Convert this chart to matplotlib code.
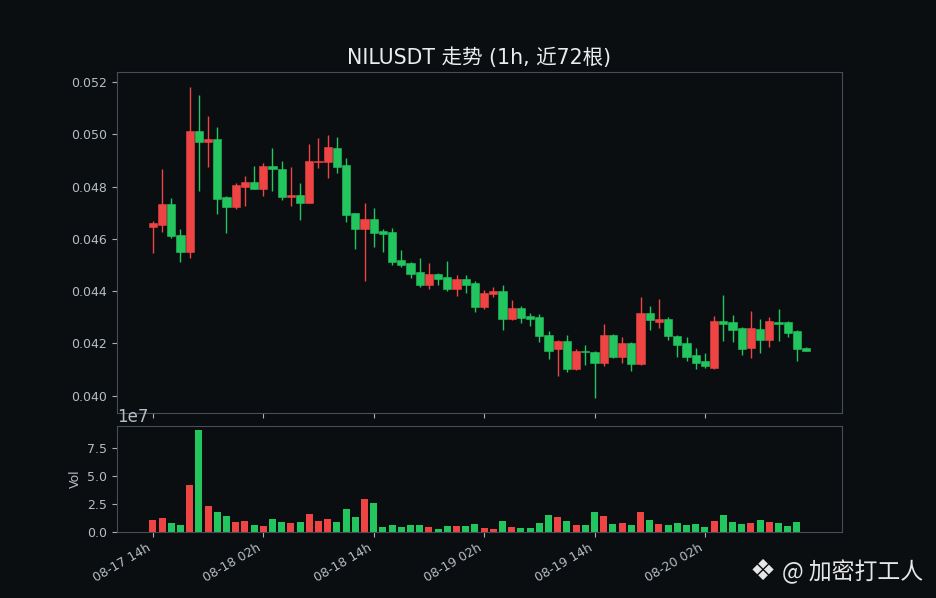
import numpy as np
import pandas as pd
import matplotlib
matplotlib.use("Agg")
import matplotlib.pyplot as plt
import matplotlib.dates as mdates

# ---- data ----
start_time = "2025-08-17 14:00"
opens = [0.04647, 0.04654, 0.04734, 0.04615, 0.04552, 0.05013, 0.04972, 0.04982, 0.04760, 0.04724,
         0.04800, 0.04818, 0.04792, 0.04879, 0.04869, 0.04762, 0.04768, 0.04739, 0.04893, 0.04893,
         0.04948, 0.04883, 0.04699, 0.04639, 0.04677, 0.04630, 0.04627, 0.04520, 0.04508, 0.04474,
         0.04422, 0.04466, 0.04455, 0.04410, 0.04447, 0.04432, 0.04338, 0.04390, 0.04401, 0.04295,
         0.04336, 0.04306, 0.04302, 0.04233, 0.04177, 0.04210, 0.04101, 0.04172, 0.04168, 0.04127,
         0.04233, 0.04150, 0.04203, 0.04123, 0.04317, 0.04284, 0.04294, 0.04229, 0.04203, 0.04157,
         0.04134, 0.04108, 0.04287, 0.04283, 0.04260, 0.04181, 0.04256, 0.04215, 0.04283, 0.04283,
         0.04248, 0.04184]
highs = [0.04669, 0.04868, 0.04757, 0.04638, 0.05182, 0.05152, 0.05070, 0.05028, 0.04763, 0.04814,
         0.04841, 0.04879, 0.04891, 0.04948, 0.04898, 0.04875, 0.04814, 0.04963, 0.04986, 0.04998,
         0.04990, 0.04910, 0.04700, 0.04738, 0.04719, 0.04638, 0.04642, 0.04558, 0.04510, 0.04527,
         0.04508, 0.04471, 0.04516, 0.04463, 0.04463, 0.04440, 0.04406, 0.04418, 0.04422, 0.04367,
         0.04344, 0.04318, 0.04313, 0.04246, 0.04214, 0.04233, 0.04180, 0.04195, 0.04172, 0.04275,
         0.04237, 0.04226, 0.04205, 0.04378, 0.04344, 0.04371, 0.04302, 0.04233, 0.04226, 0.04184,
         0.04164, 0.04306, 0.04386, 0.04310, 0.04262, 0.04325, 0.04294, 0.04302, 0.04333, 0.04287,
         0.04252, 0.04186]
lows = [0.04548, 0.04628, 0.04605, 0.04510, 0.04529, 0.04784, 0.04875, 0.04696, 0.04624, 0.04715,
        0.04726, 0.04790, 0.04764, 0.04785, 0.04750, 0.04727, 0.04673, 0.04737, 0.04873, 0.04834,
        0.04854, 0.04666, 0.04563, 0.04441, 0.04571, 0.04552, 0.04502, 0.04494, 0.04452, 0.04417,
        0.04410, 0.04424, 0.04399, 0.04383, 0.04395, 0.04322, 0.04333, 0.04376, 0.04252, 0.04291,
        0.04280, 0.04268, 0.04206, 0.04141, 0.04076, 0.04092, 0.04098, 0.04119, 0.03990, 0.04112,
        0.04146, 0.04127, 0.04093, 0.04116, 0.04253, 0.04261, 0.04214, 0.04149, 0.04134, 0.04103,
        0.04108, 0.04103, 0.04208, 0.04204, 0.04157, 0.04145, 0.04164, 0.04187, 0.04210, 0.04223,
        0.04134, 0.04170]
closes = [0.04660, 0.04734, 0.04613, 0.04552, 0.05013, 0.04972, 0.04982, 0.04754, 0.04724, 0.04806,
          0.04818, 0.04792, 0.04879, 0.04869, 0.04762, 0.04768, 0.04739, 0.04898, 0.04899, 0.04952,
          0.04876, 0.04693, 0.04639, 0.04677, 0.04624, 0.04620, 0.04513, 0.04502, 0.04467, 0.04422,
          0.04466, 0.04448, 0.04410, 0.04447, 0.04423, 0.04338, 0.04394, 0.04402, 0.04295, 0.04336,
          0.04299, 0.04293, 0.04227, 0.04173, 0.04210, 0.04101, 0.04172, 0.04166, 0.04127, 0.04233,
          0.04150, 0.04203, 0.04123, 0.04317, 0.04288, 0.04294, 0.04227, 0.04195, 0.04149, 0.04126,
          0.04112, 0.04287, 0.04276, 0.04253, 0.04177, 0.04260, 0.04215, 0.04287, 0.04275, 0.04242,
          0.04177, 0.04173]
volumes_e7 = [1.07, 1.25, 0.80, 0.625, 4.2, 9.11, 2.32, 1.79, 1.43, 0.89,
              0.98, 0.625, 0.54, 1.16, 0.89, 0.80, 0.89, 1.61, 0.98, 1.16,
              0.89, 2.05, 1.34, 2.95, 2.59, 0.45, 0.625, 0.45, 0.625, 0.625,
              0.45, 0.27, 0.54, 0.54, 0.54, 0.71, 0.36, 0.27, 0.98, 0.45,
              0.36, 0.36, 0.80, 1.52, 1.34, 0.98, 0.625, 0.625, 1.79, 1.43,
              0.71, 0.80, 0.625, 1.79, 1.07, 0.71, 0.625, 0.80, 0.625, 0.71,
              0.45, 0.98, 1.52, 0.89, 0.71, 0.80, 1.07, 0.89, 0.80, 0.54,
              0.89, 0.01]
title_text = "NILUSDT 走势 (1h, 近72根)"
watermark = "@ 加密打工人"
tick_every = 12  # one x tick label every 12 candles

# ---- styling ----
BG = "#0b0e11"
UP = "#ef4444"     # rising candles are red
DOWN = "#22c55e"   # falling candles are green
SPINE = "#474d57"
TXT = "#b7bdc6"

o = np.array(opens); h = np.array(highs); l = np.array(lows); c = np.array(closes)
vol = np.array(volumes_e7) * 1e7
times = pd.date_range(start_time, periods=len(o), freq="h")
x = mdates.date2num(times.to_pydatetime())
colors = [UP if cc >= oo else DOWN for oo, cc in zip(o, c)]

fig = plt.figure(figsize=(9.36, 5.98), dpi=100, facecolor=BG)
ax = fig.add_axes([0.125, 0.3094, 0.7746, 0.5702], facecolor=BG)
axv = fig.add_axes([0.125, 0.1104, 0.7746, 0.1772], facecolor=BG, sharex=ax)

hour = 1.0 / 24
ax.vlines(x, l, h, colors=colors, linewidth=1.0, zorder=2)
ax.bar(x, np.abs(c - o), bottom=np.minimum(o, c), width=0.88 * hour,
       color=colors, edgecolor=colors, linewidth=0.4, zorder=3)
axv.bar(x, vol, width=0.75 * hour, color=colors, linewidth=0)

ax.set_xlim(x[0] - 3.9 * hour, x[0] + 74.9 * hour)
ax.set_ylim(0.03934, 0.05239)
axv.set_ylim(0, 9.46e7)

ax.set_yticks(np.arange(0.040, 0.0521, 0.002))
ax.yaxis.set_major_formatter(matplotlib.ticker.FormatStrFormatter("%.3f"))
axv.set_yticks([0, 2.5e7, 5e7, 7.5e7])

axv.set_xticks(x[::tick_every])
axv.xaxis.set_major_formatter(mdates.DateFormatter("%m-%d %Hh"))
ax.tick_params(labelbottom=False)
for lab in axv.get_xticklabels():
    lab.set_rotation(30)
    lab.set_ha("right")

for a in (ax, axv):
    for s in a.spines.values():
        s.set_color(SPINE)
    a.tick_params(colors=TXT, labelsize=9, length=3.5)
    a.tick_params(axis="both", which="both", color="#aab0b8")

axv.yaxis.get_offset_text().set_color(TXT)
axv.yaxis.get_offset_text().set_fontsize(12)
axv.set_ylabel("Vol", color=TXT, fontsize=9)

ax.set_title(title_text, color="#eaecef", fontsize=14.8,
             family=["DejaVu Sans", "Noto Sans CJK SC"], pad=6)

fig.text(0.801, 0.043, "❖", color="#e6e6e6", fontsize=21,
         family=["DejaVu Sans"], va="center", ha="left")
fig.text(0.835, 0.043, watermark, color="#e6e6e6", fontsize=16.5,
         family=["Noto Sans CJK SC", "DejaVu Sans"], va="center", ha="left")

fig.savefig("out.png", dpi=100, facecolor=BG)
